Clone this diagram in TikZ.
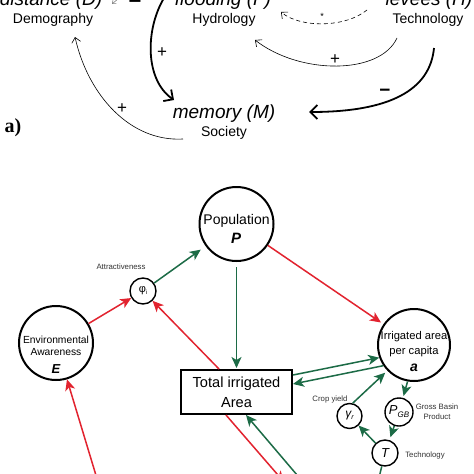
\documentclass[tikz,border=0pt]{standalone}
\usepackage{fontspec}
\setmainfont{Liberation Sans}
\newfontfamily\serifb{Liberation Serif}
\usetikzlibrary{arrows.meta}
\definecolor{grn}{HTML}{1C6B46}
\definecolor{rd}{HTML}{E2232F}
\begin{document}
\begin{tikzpicture}[x=1pt,y=-1pt,
  bigtxt/.style={font=\fontsize{19}{22}\selectfont\itshape, anchor=base, inner sep=0},
  subtxt/.style={font=\fontsize{14}{16}\selectfont, inner sep=0},
  signtxt/.style={font=\fontsize{17}{18}\selectfont, inner sep=0},
  thinarr/.style={line width=0.6pt, -{Straight Barb[length=5pt,width=9pt]}},
  thickarr/.style={line width=1.8pt, -{Straight Barb[length=7pt,width=14pt]}},
  bigcirc/.style={circle, draw, line width=2pt, inner sep=0, fill=white},
  smallcirc/.style={circle, draw, line width=1.4pt, inner sep=0, fill=white},
  tinytxt/.style={font=\fontsize{7.8}{9}\selectfont, inner sep=0, text=black!80},
  garr/.style={grn, line width=1.5pt, -{Stealth[length=11pt,width=10pt,inset=3pt]}},
  rarr/.style={rd, line width=1.5pt, -{Stealth[length=11pt,width=10pt,inset=3pt]}}
]
\useasboundingbox (0,0) rectangle (474,474);
\clip (0,0) rectangle (474,474);
\fill[white] (0,0) rectangle (474,474);

% ---------- panel a ----------
\node[bigtxt] (D) at (51,5) {distance (D)};
\node[subtxt] (Dem) at (53,20) {Demography};
\node[bigtxt] (F) at (223,5) {flooding (F)};
\node[subtxt] (Hyd) at (224,20) {Hydrology};
\node[bigtxt] (H) at (429,5) {levees (H)};
\node[subtxt] (Tec) at (428,20) {Technology};
\node[bigtxt] (M) at (224,118) {memory (M)};
\node[subtxt] (Soc) at (224,133) {Society};
\node[inner sep=0, font=\serifb\bfseries\fontsize{20}{22}\selectfont] (lab) at (13,128) {a)};

\coordinate (socL) at (183,139);
\coordinate (demB) at (75,37);
\coordinate (fB) at (164,-2);
\coordinate (mL) at (174,100);
\coordinate (hL) at (367,10);
\coordinate (fR) at (281,12);
\coordinate (tecB) at (397,38);
\coordinate (hydB) at (255,40);
\coordinate (tecB2) at (434,48);
\coordinate (mR) at (309,112);
\coordinate (gS) at (140,-12);
\coordinate (gE) at (112,4);

\draw[thinarr] (socL) .. controls (130,142) and (88,95) .. (demB);
\node[signtxt] (p1) at (122,109) {+};
\draw[thickarr] (fB) .. controls (145,30) and (145,80) .. (mL);
\node[signtxt] (p2) at (162,53) {+};
\draw[thinarr, dash pattern=on 4pt off 3pt] (hL) .. controls (345,28) and (300,28) .. (fR);
\node[inner sep=0, font=\fontsize{9}{10}\selectfont] (st) at (322,16) {*};
\draw[thinarr] (tecB) .. controls (380,75) and (300,75) .. (hydB);
\node[signtxt] (p3) at (335,60) {+};
\draw[thickarr] (tecB2) .. controls (430,90) and (390,112) .. (mR);
\node[signtxt, font=\fontsize{19}{20}\selectfont\bfseries] (m1) at (385,93) {−};
\node[signtxt, font=\fontsize{22}{22}\selectfont\bfseries] (m2) at (135,4) {−};
\draw[gray, line width=0.6pt, -{Straight Barb[length=3pt,width=5pt]}] (gS) .. controls (126,-8) .. (gE);

% ---------- panel b ----------
\node[bigcirc, minimum size=74pt] (P) at (236.5,224) {};
\node[inner sep=0, font=\fontsize{14}{16}\selectfont] (Ptxt) at (236.5,221) {Population};
\node[inner sep=0, font=\fontsize{15}{16}\selectfont\bfseries\itshape] (Psym) at (236,238) {P};

\node[smallcirc, minimum size=26pt] (phi) at (143,291) {};
\node[inner sep=0, font=\fontsize{11}{12}\selectfont] (phitxt) at (143,291) {φ\raisebox{-2pt}{\fontsize{6}{7}\selectfont i}};
\node[tinytxt] (attr) at (121,267) {Attractiveness};

\node[bigcirc, minimum size=74pt] (E) at (56,343) {};
\node[inner sep=0, font=\fontsize{10.3}{12}\selectfont] (Etxt1) at (56,340) {Environmental};
\node[inner sep=0, font=\fontsize{10.3}{12}\selectfont] (Etxt2) at (56,352) {Awareness};
\node[inner sep=0, font=\fontsize{13}{14}\selectfont\bfseries\itshape] (Esym) at (56,369) {E};

\node[bigcirc, minimum size=72pt] (a) at (414,345) {};
\node[inner sep=0, font=\fontsize{11.2}{13}\selectfont] (atxt1) at (414,337) {Irrigated area};
\node[inner sep=0, font=\fontsize{11.2}{13}\selectfont] (atxt2) at (414,352) {per capita};
\node[inner sep=0, font=\fontsize{14}{15}\selectfont\bfseries\itshape] (asym) at (414,368) {a};

\node[draw, line width=2pt, fill=white, minimum width=111pt, minimum height=44pt, inner sep=0] (box) at (236.5,392) {};
\node[inner sep=0, font=\fontsize{14.6}{16}\selectfont] (btxt1) at (236.5,384) {Total irrigated};
\node[inner sep=0, font=\fontsize{14.6}{16}\selectfont] (btxt2) at (236.5,403) {Area};

\node[smallcirc, minimum size=25pt] (gam) at (349.5,416) {};
\node[inner sep=0, font=\fontsize{12}{13}\selectfont\itshape] (gamtxt) at (349.5,416) {γ\raisebox{-2pt}{\fontsize{7}{8}\selectfont r}};
\node[tinytxt] (crop) at (330,399) {Crop yield};

\node[smallcirc, minimum size=28pt] (PGB) at (399,412) {};
\node[inner sep=0, font=\fontsize{13}{14}\selectfont\itshape] (PGBtxt) at (399,412) {P\raisebox{-3pt}{\fontsize{8}{9}\selectfont GB}};
\node[tinytxt] (gb1) at (437,407) {Gross Basin};
\node[tinytxt] (gb2) at (437,417) {Product};

\node[smallcirc, minimum size=26pt] (T) at (385,453) {};
\node[inner sep=0, font=\fontsize{13}{14}\selectfont\itshape] (Ttxt) at (385,453) {T};
\node[tinytxt] (tech) at (425,455) {Technology};

\coordinate (redBot) at (284,482);
\coordinate (greenBot) at (303,482);
\coordinate (eBot) at (98,482);
\coordinate (tBot) at (377,486);

\draw[garr, shorten >=6pt] (phi) -- (P);
\draw[rarr, shorten >=3pt] (P) -- (a);
\draw[garr, shorten <=5pt, shorten >=1pt] (P) -- (box);
\draw[rarr] (E) -- (phi);
\draw[rarr] ([xshift=-17.5pt]box.north) -- (phi);
\draw[rarr] ([xshift=-10.5pt]box.south) -- (redBot);
\draw[garr] (greenBot) -- ([xshift=9.5pt]box.south);
\draw[rarr] (eBot) -- (E);
\draw[garr] ([yshift=17pt]box.east) -- (a.200);
\draw[garr] (a.214) -- ([yshift=8pt]box.east);
\draw[garr, shorten >=2pt] (a.260) -- (PGB);
\draw[garr, shorten >=3pt] (PGB) -- (T);
\draw[garr] (T) -- (gam);
\draw[garr, shorten >=3pt] (gam.76) -- (a.224);
\draw[garr] (T) -- (tBot);
\end{tikzpicture}
\end{document}
